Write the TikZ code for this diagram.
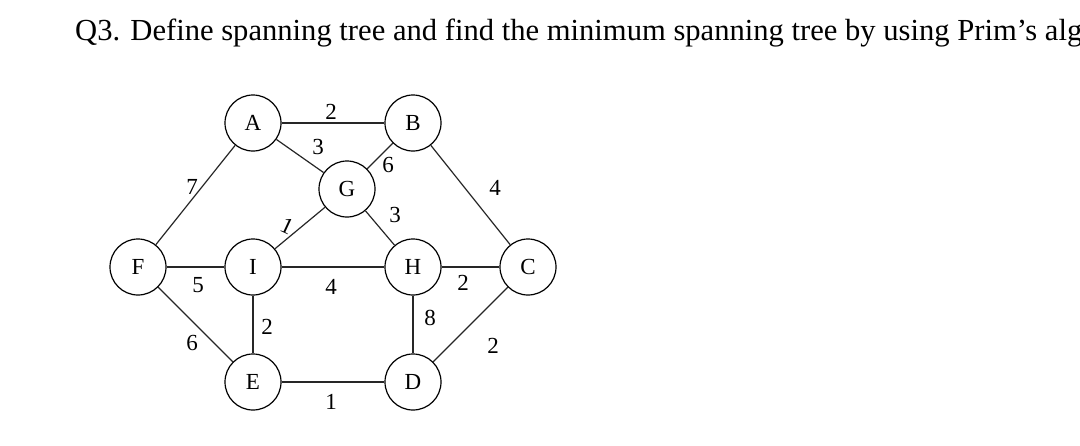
\documentclass[tikz,border=0pt]{standalone}
\usepackage{fontspec}
\setmainfont{Liberation Serif}
\begin{document}
\begin{tikzpicture}[x=1pt,y=-1pt,
  vtx/.style={circle,draw,line width=1.2pt,minimum size=56pt,inner sep=0pt,font=\fontsize{23}{23}\selectfont},
  edge/.style={line width=1.2pt,draw=black!85},
  wt/.style={font=\fontsize{23}{23}\selectfont,inner sep=0pt}]
\useasboundingbox (0,0) rectangle (1080,445);
\clip (0,0) rectangle (1080,445);
\node[anchor=base west,inner sep=0pt,font=\fontsize{30.6}{30.6}\selectfont] (title) at (75,40) {Q3. Define spanning tree and find the minimum spanning tree by using Prim’s algo};
\node[vtx] (A) at (253,123) {A};
\node[vtx] (B) at (413,123) {B};
\node[vtx] (G) at (347,189) {G};
\node[vtx] (F) at (138,267) {F};
\node[vtx] (I) at (253,267) {I};
\node[vtx] (H) at (413,267) {H};
\node[vtx] (C) at (528,267) {C};
\node[vtx] (E) at (253,382) {E};
\node[vtx] (D) at (413,382) {D};
\draw[edge] (A)--(B); \draw[edge] (A)--(G); \draw[edge] (B)--(G);
\draw[edge] (A)--(F); \draw[edge] (B)--(C); \draw[edge] (G)--(H);
\draw[edge] (G)--(I); \draw[edge] (F)--(I); \draw[edge] (I)--(H);
\draw[edge] (H)--(C); \draw[edge] (I)--(E); \draw[edge] (H)--(D);
\draw[edge] (F)--(E); \draw[edge] (D)--(C); \draw[edge] (E)--(D);
\node[wt] (w1) at (331,112) {2};
\node[wt] (w2) at (318,147) {3};
\node[wt] (w3) at (388,165) {6};
\node[wt] (w4) at (192,187) {7};
\node[wt] (w5) at (495,188) {4};
\node[wt] (w6) at (395,215) {3};
\node[wt,rotate=-25] (w7) at (287,226) {1};
\node[wt] (w8) at (198,285) {5};
\node[wt] (w9) at (331,287) {4};
\node[wt] (w10) at (463,283) {2};
\node[wt] (w11) at (267,327) {2};
\node[wt] (w12) at (430,318) {8};
\node[wt] (w13) at (192,343) {6};
\node[wt] (w14) at (493,346) {2};
\node[wt] (w15) at (331,402) {1};
\end{tikzpicture}
\end{document}
